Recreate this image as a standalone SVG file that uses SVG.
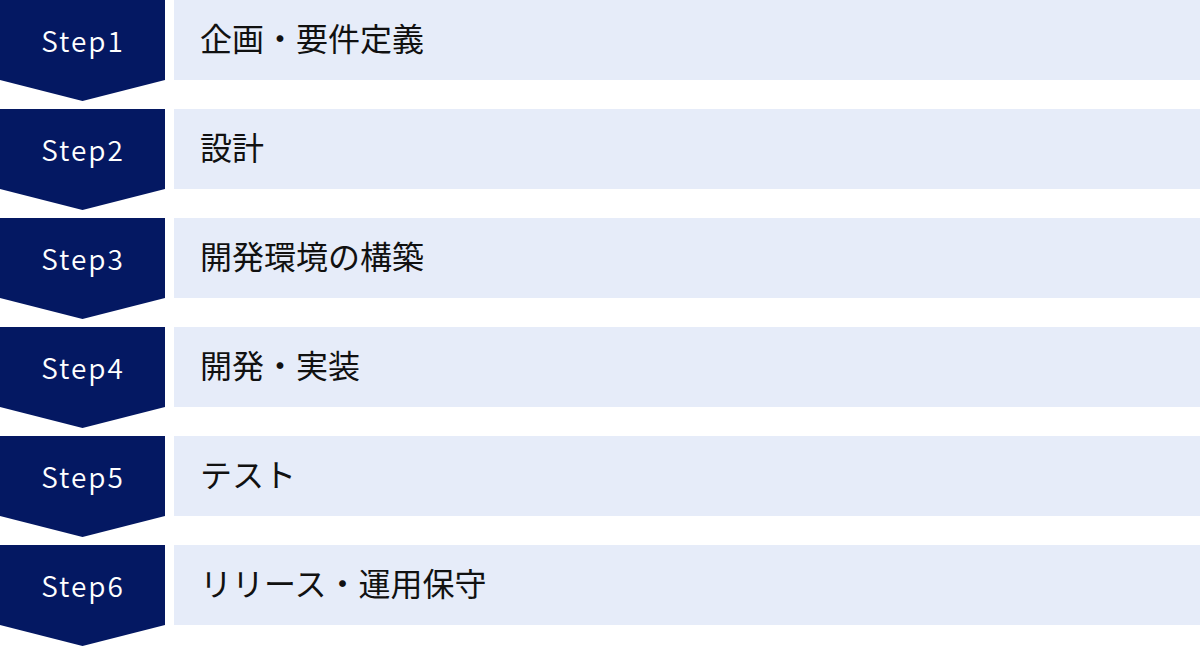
<svg xmlns="http://www.w3.org/2000/svg" width="1200" height="647" viewBox="0 0 1200 647">
<defs>
<style>
.step{fill:#041862}
.bar{fill:#E6ECF9}
.sl{fill:#ffffff;font-family:"Noto Sans CJK JP","Noto Sans",sans-serif;font-size:28px;font-weight:350;letter-spacing:2px;text-anchor:middle}
.lb{fill:#111111;font-family:"Noto Sans CJK JP",sans-serif;font-size:32px}
</style>
<polygon id="chev" points="0,0 165,0 165,80 82.5,101 0,80"/>
</defs>
<g id="connectors"></g>
<g id="step1" transform="translate(0,0)">
<use href="#chev" class="step"/>
<rect class="bar" x="174" y="0" width="1026" height="80"/>
<text class="sl" x="83" y="52">Step1</text>
<text class="lb" x="200" y="51">企画・要件定義</text>
</g>
<g id="step2" transform="translate(0,109)">
<use href="#chev" class="step"/>
<rect class="bar" x="174" y="0" width="1026" height="80"/>
<text class="sl" x="83" y="52">Step2</text>
<text class="lb" x="200" y="51">設計</text>
</g>
<g id="step3" transform="translate(0,218)">
<use href="#chev" class="step"/>
<rect class="bar" x="174" y="0" width="1026" height="80"/>
<text class="sl" x="83" y="52">Step3</text>
<text class="lb" x="200" y="51">開発環境の構築</text>
</g>
<g id="step4" transform="translate(0,327)">
<use href="#chev" class="step"/>
<rect class="bar" x="174" y="0" width="1026" height="80"/>
<text class="sl" x="83" y="52">Step4</text>
<text class="lb" x="200" y="51">開発・実装</text>
</g>
<g id="step5" transform="translate(0,436)">
<use href="#chev" class="step"/>
<rect class="bar" x="174" y="0" width="1026" height="80"/>
<text class="sl" x="83" y="52">Step5</text>
<text class="lb" x="200" y="51">テスト</text>
</g>
<g id="step6" transform="translate(0,545)">
<use href="#chev" class="step"/>
<rect class="bar" x="174" y="0" width="1026" height="80"/>
<text class="sl" x="83" y="52">Step6</text>
<text class="lb" x="200" y="51">リリース・運用保守</text>
</g>
</svg>
